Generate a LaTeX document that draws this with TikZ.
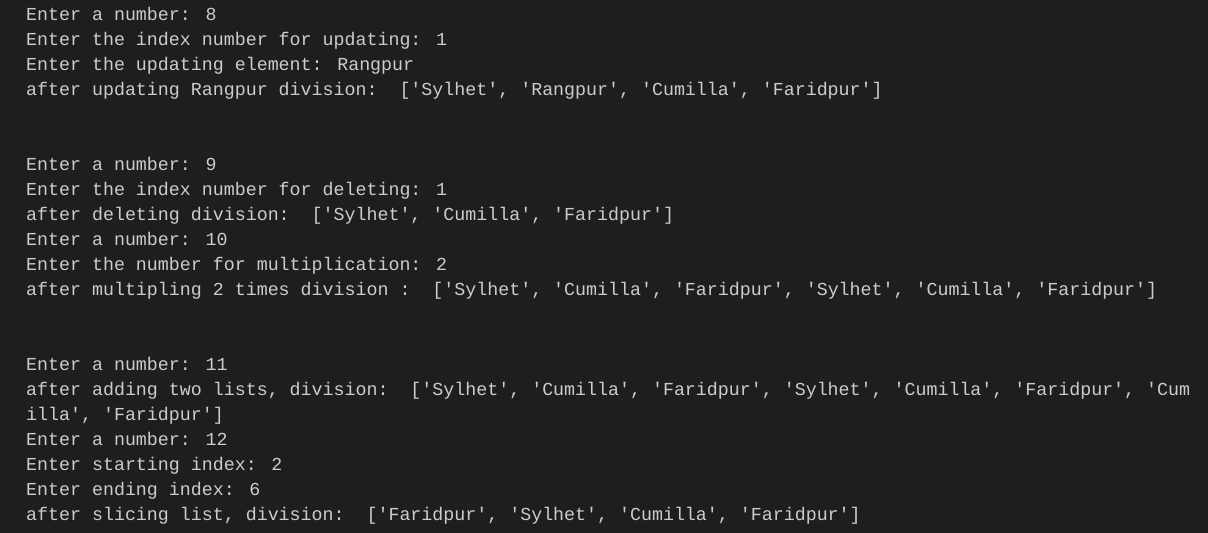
\documentclass[tikz,border=0pt]{standalone}
\usepackage{fontspec}
\newfontfamily\term[Ligatures=ResetAll]{Liberation Mono}
\definecolor{bg}{HTML}{1E1E1E}
\definecolor{fg}{HTML}{CCCCCC}
\newcommand{\q}{\char"27\relax}
\begin{document}
\begin{tikzpicture}[x=1pt,y=1pt,
  ln/.style={anchor=base west,inner sep=0pt,text=fg,font=\term\fontsize{18.3}{25}\selectfont}]
\fill[bg] (0,0) rectangle (1208,-533);
\useasboundingbox (0,0) rectangle (1208,-533);
\def\Y#1{-(20+25*#1)}
\node[ln] (l0) at (26,{-(20+25*0)}) {Enter a number: 8};
\node[ln] (l1) at (26,{-(20+25*1)}) {Enter the index number for updating: 1};
\node[ln] (l2) at (26,{-(20+25*2)}) {Enter the updating element: Rangpur};
\node[ln] (l3) at (26,{-(20+25*3)}) {after updating Rangpur division:\ \ [\q Sylhet\q, \q Rangpur\q, \q Cumilla\q, \q Faridpur\q]};
\node[ln] (l6) at (26,{-(20+25*6)}) {Enter a number: 9};
\node[ln] (l7) at (26,{-(20+25*7)}) {Enter the index number for deleting: 1};
\node[ln] (l8) at (26,{-(20+25*8)}) {after deleting division:\ \ [\q Sylhet\q, \q Cumilla\q, \q Faridpur\q]};
\node[ln] (l9) at (26,{-(20+25*9)}) {Enter a number: 10};
\node[ln] (l10) at (26,{-(20+25*10)}) {Enter the number for multiplication: 2};
\node[ln] (l11) at (26,{-(20+25*11)}) {after multipling 2 times division :\ \ [\q Sylhet\q, \q Cumilla\q, \q Faridpur\q, \q Sylhet\q, \q Cumilla\q, \q Faridpur\q]};
\node[ln] (l14) at (26,{-(20+25*14)}) {Enter a number: 11};
\node[ln] (l15) at (26,{-(20+25*15)}) {after adding two lists, division:\ \ [\q Sylhet\q, \q Cumilla\q, \q Faridpur\q, \q Sylhet\q, \q Cumilla\q, \q Faridpur\q, \q Cum};
\node[ln] (l16) at (26,{-(20+25*16)}) {illa\q, \q Faridpur\q]};
\node[ln] (l17) at (26,{-(20+25*17)}) {Enter a number: 12};
\node[ln] (l18) at (26,{-(20+25*18)}) {Enter starting index: 2};
\node[ln] (l19) at (26,{-(20+25*19)}) {Enter ending index: 6};
\node[ln] (l20) at (26,{-(20+25*20)}) {after slicing list, division:\ \ [\q Faridpur\q, \q Sylhet\q, \q Cumilla\q, \q Faridpur\q]};
\end{tikzpicture}
\end{document}
